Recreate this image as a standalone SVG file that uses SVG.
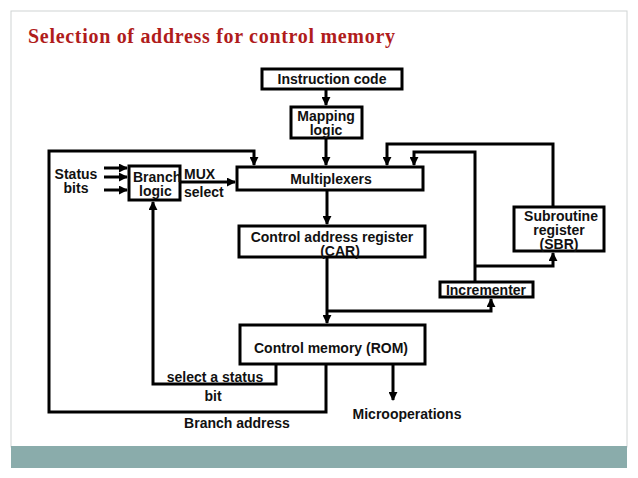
<svg xmlns="http://www.w3.org/2000/svg" width="638" height="478" viewBox="0 0 638 478">
<defs>
<marker id="ah" viewBox="0 0 10 10" refX="9" refY="5" markerWidth="3" markerHeight="3" orient="auto"><path d="M0,0 L10,5 L0,10 z" fill="#000"/></marker>
<style>
.b{fill:#fff;stroke:#000;stroke-width:3}
.c{fill:none;stroke:#000;stroke-width:3}
.t{font-family:"Liberation Sans",Arial,sans-serif;font-weight:bold;font-size:14px;fill:#111}
</style>
</defs>
<rect width="638" height="478" fill="#fff"/>
<rect x="11" y="11" width="616" height="436" fill="#fff" stroke="#d0d4d4" stroke-width="1"/>
<rect x="11" y="446" width="616" height="22" fill="#8aacab"/>
<text x="28" y="43" font-family="Liberation Serif,serif" font-weight="bold" font-size="20" fill="#b01c1c" textLength="367">Selection of address for control memory</text>
<g id="connectors">
<path class="c" d="M326 89V105" marker-end="url(#ah)"/>
<path class="c" d="M326 138V165" marker-end="url(#ah)"/>
<path class="c" d="M327 190V224" marker-end="url(#ah)"/>
<path class="c" d="M327 257V323" marker-end="url(#ah)"/>
<path class="c" d="M327 311H491V299" marker-end="url(#ah)"/>
<path class="c" d="M475 282V152H414V165" marker-end="url(#ah)"/>
<path class="c" d="M475 266H553V253" marker-end="url(#ah)"/>
<path class="c" d="M553 207V144H387V165" marker-end="url(#ah)"/>
<path class="c" d="M180 182H235" stroke-width="2" marker-end="url(#ah)"/>
<path class="c" d="M104 168H127" marker-end="url(#ah)"/>
<path class="c" d="M104 177H127" marker-end="url(#ah)"/>
<path class="c" d="M104 190H127" marker-end="url(#ah)"/>
<path class="c" d="M276 364V384H153V202" marker-end="url(#ah)"/>
<path class="c" d="M326 364V412H49V151H254V165" marker-end="url(#ah)"/>
<path class="c" d="M393 364V400" stroke-width="2" marker-end="url(#ah)"/>
</g>
<g id="instr"><rect class="b" x="262" y="69" width="140" height="20"/><text class="t" x="332" y="84" text-anchor="middle">Instruction code</text></g>
<g id="mapping"><rect class="b" x="291" y="107" width="71" height="31"/><text class="t" x="326" y="121" text-anchor="middle">Mapping</text><text class="t" x="326" y="135" text-anchor="middle">logic</text></g>
<g id="mux"><rect class="b" x="237" y="167" width="186" height="23"/><text class="t" x="331" y="184" text-anchor="middle">Multiplexers</text></g>
<g id="branch"><rect class="b" x="129" y="166" width="51" height="34"/><text class="t" x="133" y="182">Branch</text><text class="t" x="139" y="196">logic</text></g>
<g id="car"><rect class="b" x="239" y="226" width="186" height="31"/><text class="t" x="332" y="242" text-anchor="middle">Control address register</text><text class="t" x="340" y="256" text-anchor="middle">(CAR)</text></g>
<g id="inc"><rect class="b" x="440" y="282" width="93" height="15"/><text class="t" x="486" y="295" text-anchor="middle">Incrementer</text></g>
<g id="sbr"><rect class="b" x="514" y="207" width="90" height="44"/><text class="t" x="561" y="221" text-anchor="middle">Subroutine</text><text class="t" x="559" y="235" text-anchor="middle">register</text><text class="t" x="559" y="249" text-anchor="middle">(SBR)</text></g>
<g id="rom"><rect class="b" x="240" y="325" width="185" height="39"/><text class="t" x="331" y="353" text-anchor="middle">Control memory (ROM)</text></g>
<g id="labels">
<text class="t" x="76" y="179" text-anchor="middle">Status</text><text class="t" x="76" y="193" text-anchor="middle">bits</text>
<text class="t" x="184" y="179">MUX</text><text class="t" x="184" y="197">select</text>
<text class="t" x="215" y="382" text-anchor="middle">select a status</text><text class="t" x="213" y="401" text-anchor="middle">bit</text>
<text class="t" x="237" y="428" text-anchor="middle">Branch address</text>
<text class="t" x="407" y="419" text-anchor="middle">Microoperations</text>
</g>
</svg>
